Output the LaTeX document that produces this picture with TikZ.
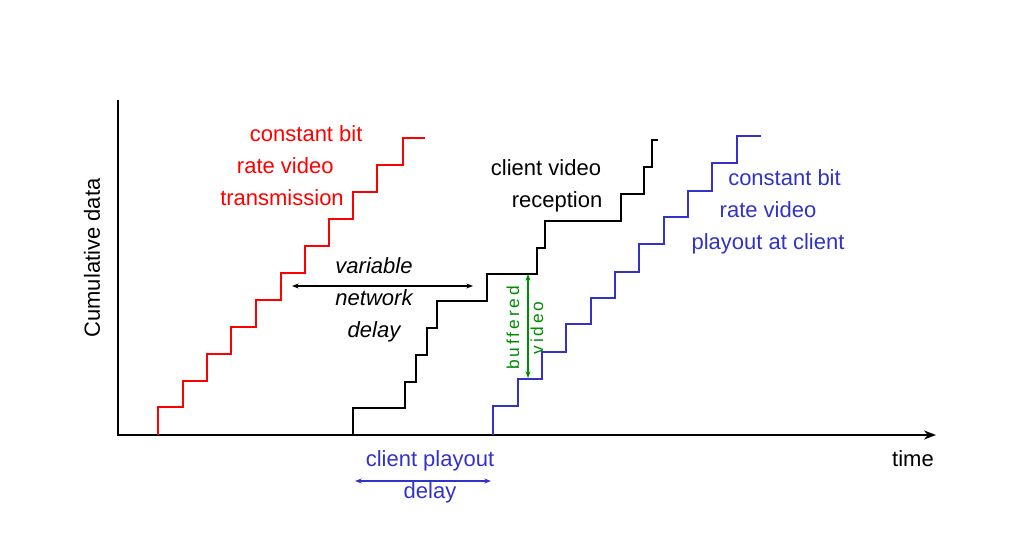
\documentclass[tikz,border=0pt]{standalone}
\usepackage{fontspec}
\setmainfont{Liberation Sans}
\usetikzlibrary{arrows.meta}
\definecolor{myblue}{RGB}{50,50,200}
\definecolor{mygreen}{RGB}{0,140,0}
\begin{document}
\begin{tikzpicture}[x=0.75pt,y=-0.75pt,
  lbl/.style={font=\fontsize{16.5}{24}\selectfont,align=center,inner sep=0pt},
  darr/.style={{Stealth[length=5pt]}-{Stealth[length=5pt]},line width=0.9pt}]
\useasboundingbox (0,0) rectangle (1020,553);
% axes
\draw[line width=2pt,-{Stealth[length=9pt]}] (118,100) -- (118,435) -- (936,435);
\node[lbl,rotate=90] (yl) at (92,258) {Cumulative data};
\node[lbl] (tl) at (913,459) {time};
% red
\draw[red,line width=1pt] (158,435) -- (158,407) -- (183,407) -- (183,381) -- (207,381) -- (207,354) -- (231,354) -- (231,327) -- (256,327) -- (256,300) -- (281,300) -- (281,273) -- (305,273) -- (305,246) -- (329,246) -- (329,219) -- (353,219) -- (353,192) -- (377,192) -- (377,165) -- (403,165) -- (403,138) -- (425,138);
% black
\draw[black,line width=1pt] (353,435) -- (353,408) -- (405,408) -- (405,382) -- (416,382) -- (416,355) -- (427,355) -- (427,328) -- (437,328) -- (437,301) -- (487,301) -- (487,274) -- (537,274) -- (537,248) -- (545,248) -- (545,221) -- (621,221) -- (621,194) -- (644,194) -- (644,167) -- (652,167) -- (652,140) -- (658,140);
% blue
\draw[myblue,line width=1pt] (493,435) -- (493,406) -- (518,406) -- (518,379) -- (542,379) -- (542,352) -- (566,352) -- (566,324) -- (591,324) -- (591,298) -- (615,298) -- (615,272) -- (639,272) -- (639,244) -- (664,244) -- (664,217) -- (688,217) -- (688,191) -- (712,191) -- (712,163) -- (737,163) -- (737,136) -- (761,136);
% labels
\node[lbl,red] (rt) at (282,166) {\hspace*{2.2em}constant bit\\\hspace*{0.3em}rate video\\transmission};
\node[lbl] (cv) at (546,186) {client video\\\hspace*{1em}reception};
\node[lbl,myblue] (bt) at (768,212) {\hspace*{1.5em}constant bit\\rate video\\playout at client};
\node[lbl,font=\fontsize{16.5}{24}\selectfont\itshape] (nd) at (374,300) {variable\\network\\delay};
\coordinate (nda) at (292,286); \coordinate (ndb) at (473,286);
\draw[darr] (nda) -- (ndb);
\coordinate (ga) at (528,274); \coordinate (gb) at (528,378);
\draw[darr,mygreen] (ga) -- (gb);
\node[lbl,mygreen,rotate=90,font=\fontsize{13}{18}\selectfont] (bv) at (525,328) {b\,u\,f\,f\,e\,r\,e\,d\\v\,i\,d\,e\,o};
\node[lbl,myblue] (pd) at (430,477) {client playout\\delay};
\coordinate (pa) at (355,481); \coordinate (pb) at (491,481);
\draw[darr,myblue] (pa) -- (pb);
\end{tikzpicture}
\end{document}
